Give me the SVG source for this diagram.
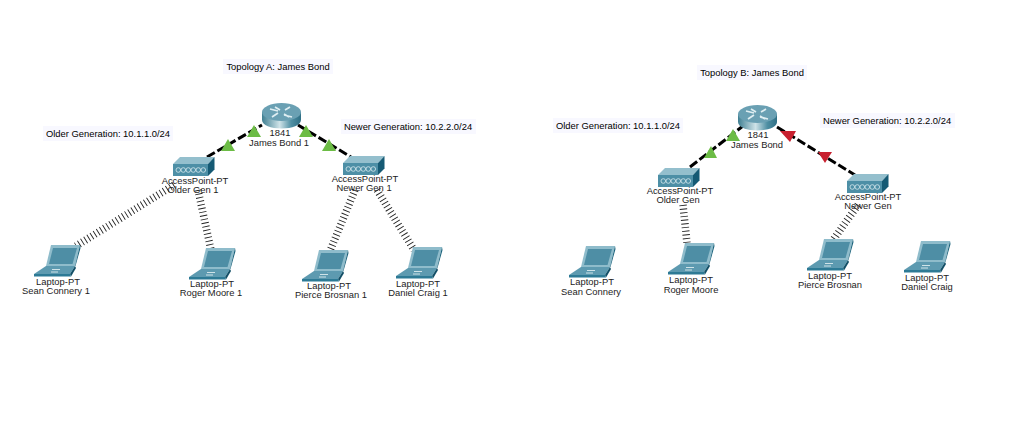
<svg xmlns="http://www.w3.org/2000/svg" width="1024" height="438" viewBox="0 0 1024 438">
<style>
text{font-family:"Liberation Sans",Arial,sans-serif;font-size:9.4px;fill:#1c1c1c;text-anchor:middle}
.nt{fill:#000}
.bg{fill:#f8f8ff}
.eth{fill:none;stroke:#000;stroke-width:3;stroke-dasharray:9 3}
.wl{fill:none;stroke:#222;stroke-width:7.500;stroke-dasharray:.9 2.800}
.up{fill:#6cbc45}
.dn{fill:#c8202f}
</style>
<defs>
<linearGradient id="rg" x1="0" x2="1" y1="0" y2="0"><stop offset="0" stop-color="#3f7f92"/><stop offset=".45" stop-color="#cfe3e8"/><stop offset=".75" stop-color="#4f8fa3"/><stop offset="1" stop-color="#2f6f85"/></linearGradient>
<g id="router">
<path d="M0 9V17C0 22 9 25.500 19.500 25.500S39 22 39 17V9Z" fill="url(#rg)"/>
<ellipse cx="19.500" cy="9" rx="19.500" ry="9" fill="#6aa0b3"/>
<path d="M8 6l8 2M13 4l5 3M22 12l8 2M22 11l5 3M23 7l5-3M10 14l6-4" stroke="#dfeef2" stroke-width="1.700" fill="none"/>
</g>
<g id="ap">
<path d="M0 7L7 0H41.500L35 7Z" fill="#94bfcd"/>
<path d="M35 7L41.500 0V12.500L35 19Z" fill="#155a74"/>
<rect x="0" y="7" width="35" height="12" fill="#4d8fa6"/>
<path d="M3 13a2.300 2.300 0 1 1 4.600 0a2.300 2.300 0 1 1-4.600 0M8 13a2.300 2.300 0 1 1 4.600 0a2.300 2.300 0 1 1-4.600 0M13 13a2.300 2.300 0 1 1 4.600 0a2.300 2.300 0 1 1-4.600 0M18 13a2.300 2.300 0 1 1 4.600 0a2.300 2.300 0 1 1-4.600 0M23 13a2.300 2.300 0 1 1 4.600 0a2.300 2.300 0 1 1-4.600 0M28 13a2.300 2.300 0 1 1 4.600 0a2.300 2.300 0 1 1-4.600 0" fill="none" stroke="#d5e8ee" stroke-width=".8"/>
</g>
<g id="laptop">
<path d="M17 0H46L41 21H12Z" fill="#8fbccb"/>
<path d="M19 3H43L38.500 19H15Z" fill="#4e8ea5"/>
<path d="M46 0L46.500 3L41.500 21L41 21Z" fill="#17607a"/>
<path d="M12 21H41L36 29H0Z" fill="#5d9ab0"/>
<path d="M41 21L42 23L37 31.500L36 29Z" fill="#124f67"/>
<path d="M0 29H36L37 31.500H0Z" fill="#2d7a95"/>
<path d="M18 24.500h8M17 27h7" stroke="#cfe3e8" stroke-width="1"/>
</g>
</defs>
<rect width="1024" height="438" fill="#fff"/>

<g id="connectors">
<path class="eth" d="M207 157L262 125"/>
<path class="eth" d="M298 125L351 157"/>
<path class="wl" d="M174 185L76 246"/>
<path class="wl" d="M198 190L211 250"/>
<path class="wl" d="M355 190L330 251"/>
<path class="wl" d="M377 190L414 250"/>
<path class="eth" d="M690 167L743 126"/>
<path class="eth" d="M777 127L855 175"/>
<path class="wl" d="M683 205L687 243"/>
<path class="wl" d="M858 205L833 240"/>
<polygon class="up" points="228,139 235,151 221,151"/>
<polygon class="up" points="254,125 261,137 247,137"/>
<polygon class="up" points="306,125 313,137 299,137"/>
<polygon class="up" points="329,139 336,151 322,151"/>
<polygon class="up" points="711,146 717,158 704,158"/>
<polygon class="up" points="733,129 740,141 726,141"/>
<polygon class="dn" points="780,131 796,131 790,142"/>
<polygon class="dn" points="818,152 832,152 825,163"/>
</g>

<g id="label-topology-a"><rect class="bg" x="223" y="59" width="110" height="15"/><text class="nt" x="278" y="70">Topology A: James Bond</text></g>
<g id="label-older-a"><rect class="bg" x="43" y="126" width="130" height="15"/><text class="nt" x="108" y="137">Older Generation: 10.1.1.0/24</text></g>
<g id="label-newer-a"><rect class="bg" x="341" y="119" width="135" height="15"/><text class="nt" x="408" y="130">Newer Generation: 10.2.2.0/24</text></g>
<g id="label-topology-b"><rect class="bg" x="697" y="65" width="110" height="15"/><text class="nt" x="752" y="76">Topology B: James Bond</text></g>
<g id="label-older-b"><rect class="bg" x="553" y="118" width="130" height="15"/><text class="nt" x="618" y="129">Older Generation: 10.1.1.0/24</text></g>
<g id="label-newer-b"><rect class="bg" x="820" y="113" width="135" height="15"/><text class="nt" x="887" y="124">Newer Generation: 10.2.2.0/24</text></g>

<g id="router-a"><use href="#router" x="262" y="103"/><text x="280" y="136">1841</text><text x="279" y="146">James Bond 1</text></g>
<g id="ap-older-a"><use href="#ap" x="173" y="157"/><text x="195" y="184">AccessPoint-PT</text><text x="193" y="193">Older Gen 1</text></g>
<g id="ap-newer-a"><use href="#ap" x="343" y="156"/><text x="365" y="182">AccessPoint-PT</text><text x="364" y="191">Newer Gen 1</text></g>
<g id="laptop-sean-a"><use href="#laptop" x="34" y="245"/><text x="58" y="285">Laptop-PT</text><text x="56" y="294">Sean Connery 1</text></g>
<g id="laptop-roger-a"><use href="#laptop" x="189" y="248"/><text x="212" y="287">Laptop-PT</text><text x="211" y="296">Roger Moore 1</text></g>
<g id="laptop-pierce-a"><use href="#laptop" x="302" y="250"/><text x="329" y="289">Laptop-PT</text><text x="331" y="298">Pierce Brosnan 1</text></g>
<g id="laptop-daniel-a"><use href="#laptop" x="396" y="247"/><text x="418" y="287">Laptop-PT</text><text x="418" y="296">Daniel Craig 1</text></g>

<g id="router-b"><use href="#router" x="738" y="105"/><text x="758" y="138">1841</text><text x="757" y="148">James Bond</text></g>
<g id="ap-older-b"><use href="#ap" x="658" y="168"/><text x="680" y="194">AccessPoint-PT</text><text x="678" y="203">Older Gen</text></g>
<g id="ap-newer-b"><use href="#ap" x="847" y="174"/><text x="868" y="200">AccessPoint-PT</text><text x="868" y="209">Newer Gen</text></g>
<g id="laptop-sean-b"><use href="#laptop" x="569" y="246"/><text x="592" y="285">Laptop-PT</text><text x="591" y="295">Sean Connery</text></g>
<g id="laptop-roger-b"><use href="#laptop" x="668" y="243"/><text x="691" y="283">Laptop-PT</text><text x="691" y="293">Roger Moore</text></g>
<g id="laptop-pierce-b"><use href="#laptop" x="807" y="239"/><text x="830" y="279">Laptop-PT</text><text x="830" y="288">Pierce Brosnan</text></g>
<g id="laptop-daniel-b"><use href="#laptop" x="904" y="241"/><text x="927" y="281">Laptop-PT</text><text x="927" y="290">Daniel Craig</text></g>
</svg>
